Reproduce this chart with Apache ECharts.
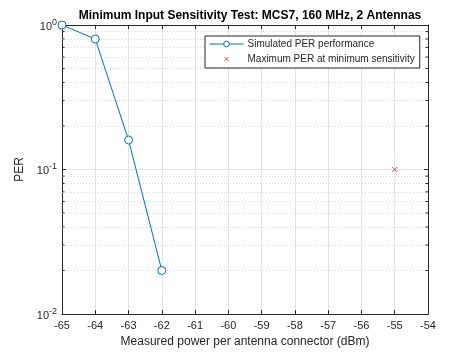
<!DOCTYPE html>
<html><head><meta charset="utf-8">
<script src="https://cdn.jsdelivr.net/npm/echarts@6/dist/echarts.min.js"></script>
<style>html,body{margin:0;padding:0;background:#fff}#c{width:474px;height:355px}</style>
</head><body><div id="c"></div>
<script>
const powerDbm = [-65, -64, -63, -62];
const perValues = [1.0, 0.8, 0.16, 0.02];
const maxPerPoint = [[-55, 0.1]];
const xTicks = [-65,-64,-63,-62,-61,-60,-59,-58,-57,-56,-55,-54];
const minorGridY = [0.02,0.03,0.04,0.05,0.06,0.07,0.08,0.09,0.2,0.3,0.4,0.5,0.6,0.7,0.8,0.9];

const font = 'Arial, "Liberation Sans", Helvetica, sans-serif';
const txt = '#262626';
const xMin = xTicks[0], xMax = xTicks[xTicks.length - 1];
const chart = echarts.init(document.getElementById('c'));
const supLabel = v => {
  const e = Math.round(Math.log10(v));
  return '{b|10}{s|' + e + '}';
};
const yLabelRich = {
  b: {fontSize: 11, lineHeight: 14, color: txt, fontFamily: font, verticalAlign: 'bottom'},
  s: {fontSize: 9, lineHeight: 9, color: txt, fontFamily: font, verticalAlign: 'top'}
};
const yAxisCommon = {
  type: 'log', logBase: 10, min: 0.01, max: 1,
  axisLine: {show: true, lineStyle: {color: txt, width: 1}},
  axisTick: {show: true, inside: true, length: 4, lineStyle: {color: txt}}
};
chart.setOption({
  animation: false,
  backgroundColor: '#fff',
  title: {
    text: 'Minimum Input Sensitivity Test: MCS7, 160 MHz, 2 Antennas',
    left: 245, textAlign: 'center', top: 5,
    textStyle: {fontSize: 12, fontWeight: 'bold', color: '#000', fontFamily: font}
  },
  legend: {
    left: 205, top: 36, orient: 'vertical',
    backgroundColor: '#fff', borderColor: txt, borderWidth: 1, borderRadius: 0,
    padding: [3, 5, 3, 4], itemGap: 4, itemWidth: 34, itemHeight: 7,
    textStyle: {fontSize: 10, color: txt, fontFamily: font, padding: [0,0,0,-1]},
    data: [
      {name: 'Simulated PER performance',
       lineStyle: {width: 1, color: '#0072BD'},
       itemStyle: {color: '#fff', borderColor: '#0072BD', borderWidth: 1}},
      {name: 'Maximum PER at minimum sensitivity',
       icon: 'path://M-4,-4 M0,0 L10,10 M10,0 L0,10 M14,14',
       itemStyle: {color: 'none', borderColor: '#ff0000', borderWidth: 1}}
    ]
  },
  grid: {left: 62, right: 46, top: 25, bottom: 41, containLabel: false},
  xAxis: [{
    type: 'value', min: xMin, max: xMax, interval: 1,
    name: 'Measured power per antenna connector (dBm)', nameLocation: 'middle', nameGap: 21,
    nameTextStyle: {fontSize: 12, color: txt, fontFamily: font},
    axisLine: {show: true, lineStyle: {color: txt, width: 1}},
    axisTick: {show: true, inside: true, length: 4, lineStyle: {color: txt}},
    axisLabel: {fontSize: 11, color: txt, fontFamily: font, margin: 6},
    splitLine: {show: true, lineStyle: {color: '#e3e3e3', width: 1}}
  }, {
    type: 'value', min: xMin, max: xMax, interval: 1, position: 'top',
    axisLine: {show: true, lineStyle: {color: txt, width: 1}},
    axisTick: {show: true, inside: true, length: 4, lineStyle: {color: txt}},
    axisLabel: {show: false}, splitLine: {show: false}
  }],
  yAxis: [Object.assign({}, yAxisCommon, {
    name: 'PER', nameLocation: 'middle', nameGap: 31,
    nameTextStyle: {fontSize: 12, color: txt, fontFamily: font},
    axisLabel: {formatter: supLabel, rich: yLabelRich, margin: 5},
    splitLine: {show: true, lineStyle: {color: '#e3e3e3', width: 1}}
  }), Object.assign({}, yAxisCommon, {
    position: 'right',
    axisLabel: {show: false}, splitLine: {show: false}
  })],
  series: [{
    name: 'Simulated PER performance', type: 'line',
    data: powerDbm.map((x, i) => [x, perValues[i]]),
    symbol: 'circle', symbolSize: 8, showSymbol: true,
    lineStyle: {color: '#0072BD', width: 1},
    itemStyle: {color: '#fff', borderColor: '#0072BD', borderWidth: 1},
    z: 5,
    markLine: {
      silent: true, symbol: 'none', label: {show: false},
      lineStyle: {color: '#d9d9d9', type: [1, 2], width: 1},
      data: minorGridY.map(v => ({yAxis: v})),
      z: 1
    }
  }, {
    name: 'Maximum PER at minimum sensitivity', type: 'scatter',
    data: maxPerPoint,
    symbol: 'path://M0,0 L10,10 M10,0 L0,10', symbolSize: 5,
    itemStyle: {color: 'none', borderColor: '#ff0000', borderWidth: 1},
    z: 6
  }, {
    name: 'minorTicks', type: 'custom', silent: true, z: 4,
    data: minorGridY.map(v => [xMin, v]),
    renderItem: (params, api) => {
      const v = api.value(1);
      const pl = api.coord([xMin, v]);
      const pr = api.coord([xMax, v]);
      const st = {stroke: txt, lineWidth: 1};
      return {type: 'group', children: [
        {type: 'line', shape: {x1: pl[0], y1: pl[1], x2: pl[0] + 2.5, y2: pl[1]}, style: st},
        {type: 'line', shape: {x1: pr[0], y1: pr[1], x2: pr[0] - 2.5, y2: pr[1]}, style: st}
      ]};
    }
  }]
});
</script></body></html>
